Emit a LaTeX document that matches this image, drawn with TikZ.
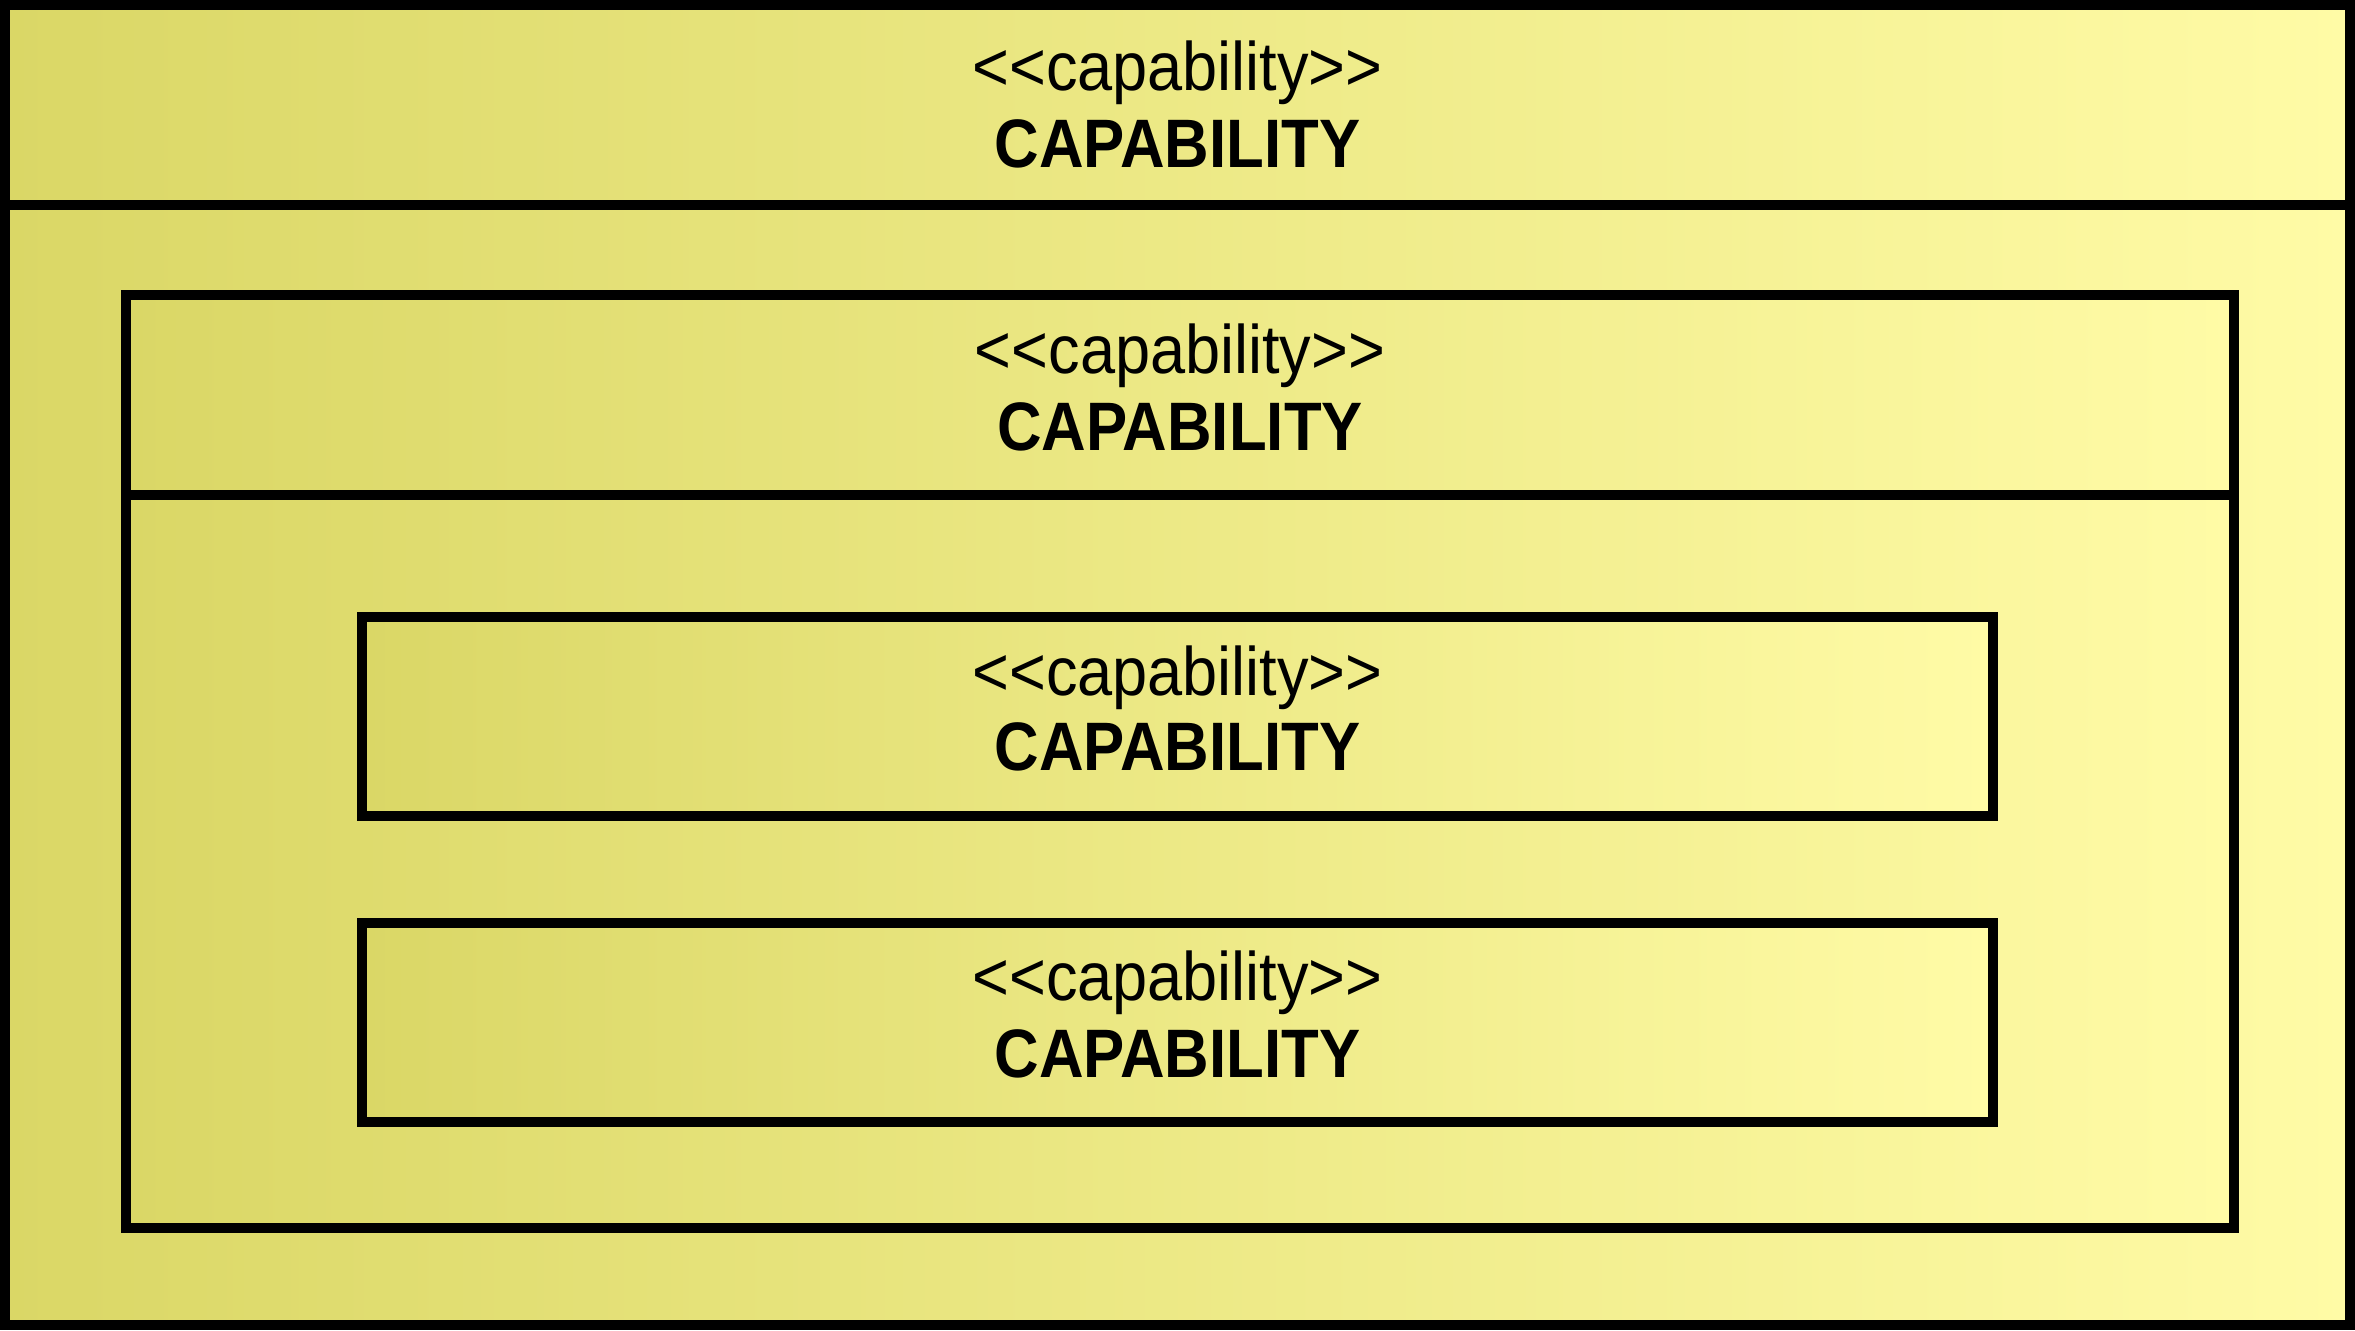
\documentclass[tikz,border=0pt]{standalone}
\usepackage{fontspec}
\setmainfont[FakeStretch=0.9]{Liberation Sans}
\newfontfamily\stereofont[FakeStretch=0.92]{Liberation Sans}
\definecolor{capleft}{RGB}{218,215,102}
\definecolor{capright}{RGB}{255,251,166}
\tikzset{
  capbox/.style={line width=0.1cm, draw=black, left color=capleft, right color=capright},
  capsep/.style={line width=0.1cm},
  stereo/.style={anchor=base, inner sep=0pt, font=\stereofont\fontsize{19.5}{22}\selectfont},
  capname/.style={anchor=base, inner sep=0pt, font=\fontsize{19.5}{22}\selectfont\bfseries},
}
\begin{document}
\begin{tikzpicture}[x=0.01cm,y=-0.01cm]
\useasboundingbox (0,0) rectangle (2355,1330);

% Drawing outer capability
\draw [capbox] (5,5) rectangle (2350,1325);
\draw [capsep] (5,205) -- (2350,205);
\node [stereo] (outerst) at (1177.5,90) {<{}<capability>{}>};
\node [capname] (outernm) at (1177.5,167) {CAPABILITY};

% Drawing middle capability
\draw [capbox] (126,295) rectangle (2234,1228);
\draw [capsep] (126,495) -- (2234,495);
\node [stereo] (midst) at (1180,373) {<{}<capability>{}>};
\node [capname] (midnm) at (1180,450) {CAPABILITY};

% Drawing first inner capability
\draw [capbox] (362,617) rectangle (1993,816);
\node [stereo] (firstst) at (1177.5,695) {<{}<capability>{}>};
\node [capname] (firstnm) at (1177.5,770) {CAPABILITY};

% Drawing second inner capability
\draw [capbox] (362,923) rectangle (1993,1122);
\node [stereo] (secondst) at (1177.5,1000) {<{}<capability>{}>};
\node [capname] (secondnm) at (1177.5,1077) {CAPABILITY};
\end{tikzpicture}
\end{document}
